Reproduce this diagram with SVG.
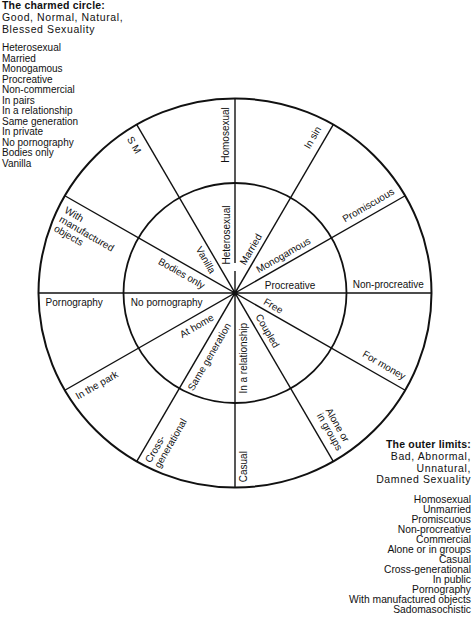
<svg xmlns="http://www.w3.org/2000/svg" width="474" height="620" viewBox="0 0 474 620">
<style>
.ring{fill:none;stroke:#111;stroke-width:2}
.inner{fill:none;stroke:#111;stroke-width:1.8}
.spoke{stroke:#111;stroke-width:1.4;fill:none}
text{font-family:"Liberation Sans",Arial,sans-serif;fill:#111}
.lbl{font-size:10px;text-anchor:middle}
.lbs{font-size:10px}
.h1{font-size:10.5px;font-weight:bold;letter-spacing:0.2px}
.h2{font-size:10.5px;letter-spacing:0.6px}
.li{font-size:10px}
.ri{font-size:10.3px;text-anchor:end}
.re{text-anchor:end}
</style>
<rect width="474" height="620" fill="#fff"/>

<g id="charmed-legend">
<text class="h1" x="2" y="9">The charmed circle:</text>
<text class="h2" x="2" y="20.8">Good, Normal, Natural,</text>
<text class="h2" x="2" y="32.6">Blessed Sexuality</text>
<text class="li" x="2" y="51">Heterosexual</text>
<text class="li" x="2" y="61.5">Married</text>
<text class="li" x="2" y="72">Monogamous</text>
<text class="li" x="2" y="82.5">Procreative</text>
<text class="li" x="2" y="93">Non-commercial</text>
<text class="li" x="2" y="103.5">In pairs</text>
<text class="li" x="2" y="114">In a relationship</text>
<text class="li" x="2" y="124.5">Same generation</text>
<text class="li" x="2" y="135">In private</text>
<text class="li" x="2" y="145.5">No pornography</text>
<text class="li" x="2" y="156">Bodies only</text>
<text class="li" x="2" y="166.5">Vanilla</text>
</g>

<g id="outer-legend">
<text class="h1 re" x="471" y="448">The outer limits:</text>
<text class="h2 re" x="471" y="459.8">Bad, Abnormal,</text>
<text class="h2 re" x="471" y="471.6">Unnatural,</text>
<text class="h2 re" x="471" y="483.4">Damned Sexuality</text>
<text class="ri" x="471" y="502.5">Homosexual</text>
<text class="ri" x="471" y="512.5">Unmarried</text>
<text class="ri" x="471" y="522.5">Promiscuous</text>
<text class="ri" x="471" y="532.6">Non-procreative</text>
<text class="ri" x="471" y="542.6">Commercial</text>
<text class="ri" x="471" y="552.6">Alone or in groups</text>
<text class="ri" x="471" y="562.7">Casual</text>
<text class="ri" x="471" y="572.7">Cross-generational</text>
<text class="ri" x="471" y="582.7">In public</text>
<text class="ri" x="471" y="592.8">Pornography</text>
<text class="ri" x="471" y="602.8">With manufactured objects</text>
<text class="ri" x="471" y="612.8">Sadomasochistic</text>
</g>

<g id="rings">
<ellipse class="ring" cx="235" cy="293" rx="196.5" ry="194.5"/>
<ellipse class="inner" cx="235" cy="293" rx="111.5" ry="110"/>
</g>

<g id="connectors">
<line class="spoke" x1="235" y1="98.5" x2="235" y2="263"/>
<line class="spoke" x1="235" y1="271" x2="235" y2="487.5"/>
<line class="spoke" x1="333.25" y1="124.56" x2="136.75" y2="461.44"/>
<line class="spoke" x1="405.17" y1="195.75" x2="64.83" y2="390.25"/>
<line class="spoke" x1="431.5" y1="293" x2="38.5" y2="293"/>
<line class="spoke" x1="405.17" y1="390.25" x2="64.83" y2="195.75"/>
<line class="spoke" x1="333.25" y1="461.44" x2="136.75" y2="124.56"/>
<circle cx="235" cy="293" r="2.6" fill="#111"/>
</g>

<g id="inner-labels">
<g id="heterosexual"><text class="lbl" transform="translate(226.5,235) rotate(-90)" y="3.5">Heterosexual</text></g>
<g id="married"><text class="lbl" transform="translate(250.8,249.2) rotate(-60)" y="3.5">Married</text></g>
<g id="monogamous"><text class="lbl" transform="translate(283.3,255) rotate(-30)" y="3.5">Monogamous</text></g>
<g id="procreative"><text class="lbl" transform="translate(290,285)" y="3.5">Procreative</text></g>
<g id="free"><text class="lbl" transform="translate(273.3,305.8) rotate(30)" y="3.5">Free</text></g>
<g id="coupled"><text class="lbl" transform="translate(267.5,330.8) rotate(60)" y="3.5">Coupled</text></g>
<g id="in-a-relationship"><text class="lbl" transform="translate(243.3,358.3) rotate(-90)" y="3.5">In a relationship</text></g>
<g id="same-generation"><text class="lbl" transform="translate(209.2,356.7) rotate(-60)" y="3.5">Same generation</text></g>
<g id="at-home"><text class="lbl" transform="translate(196.7,325.8) rotate(-30)" y="3.5">At home</text></g>
<g id="no-pornography"><text class="lbl" transform="translate(166.7,302.3)" y="3.5">No pornography</text></g>
<g id="bodies-only"><text class="lbl" transform="translate(181.7,273.3) rotate(30)" y="3.5">Bodies only</text></g>
<g id="vanilla"><text class="lbl" transform="translate(205.8,260) rotate(60)" y="3.5">Vanilla</text></g>
</g>

<g id="outer-labels">
<g id="homosexual"><text class="lbl" transform="translate(225,135) rotate(-90)" y="3.5">Homosexual</text></g>
<g id="in-sin"><text class="lbl" transform="translate(312.5,137.5) rotate(-60)" y="3.5">In sin</text></g>
<g id="promiscuous"><text class="lbl" transform="translate(368.3,205) rotate(-30)" y="3.5">Promiscuous</text></g>
<g id="non-procreative"><text class="lbl" transform="translate(388.3,284)" y="3.5">Non-procreative</text></g>
<g id="for-money"><text class="lbl" transform="translate(384.2,365) rotate(30)" y="3.5">For money</text></g>
<g id="alone-or-in-groups"><text class="lbs" transform="translate(325.2,410.6) rotate(60)"><tspan x="0" y="0">Alone or</tspan><tspan x="0" y="10">in groups</tspan></text></g>
<g id="casual"><text class="lbl" transform="translate(243.3,466.7) rotate(-90)" y="3.5">Casual</text></g>
<g id="cross-generational"><text class="lbs" transform="translate(150.6,463.6) rotate(-60)"><tspan x="0" y="0">Cross-</tspan><tspan x="0" y="10.5">generational</tspan></text></g>
<g id="in-the-park"><text class="lbl" transform="translate(96.7,385) rotate(-30)" y="3.5">In the park</text></g>
<g id="pornography"><text class="lbl" transform="translate(74.2,302.5)" y="3.5">Pornography</text></g>
<g id="with-manufactured-objects"><text class="lbs" transform="translate(63.8,212.2) rotate(30)"><tspan x="0" y="0">With</tspan><tspan x="0" y="10.5">manufactured</tspan><tspan x="0" y="21">objects</tspan></text></g>
<g id="sm"><text class="lbl" transform="translate(134.2,145) rotate(60)" y="3.5">S M</text></g>
</g>
</svg>
